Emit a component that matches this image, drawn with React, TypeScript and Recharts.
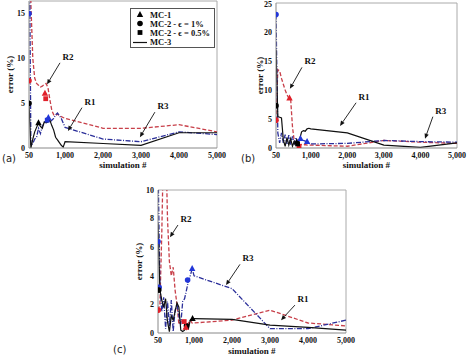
import React from 'react'
import {
  ComposedChart,
  Line,
  Scatter,
  XAxis,
  YAxis,
  ReferenceLine,
} from 'recharts'

// simulation numbers at which the errors were sampled
const simX = [50, 100, 150, 200, 250, 300, 350, 400, 450, 500, 550, 600, 650, 700, 750, 800, 850, 900, 950, 1000, 2000, 3000, 4000, 5000]
const xTicks = [50, 1000, 2000, 3000, 4000, 5000]

// panel (a)
const aR1 = [5.0, 0, 1.0, 1.8, 2.3, 2.8, 2.4, 2.2, 2.9, 2.8, 2.9, 3.1, 2.5, 2.0, 1.2, 0.9, 0.6, 0.3, 0.1, 0.7, 0.5, 0.3, 1.7, 1.7]
const aR2 = [30, 16, 10, 7.8, 7.2, 7.0, 6.8, 6.9, 7.1, 7.2, 6.7, 5.4, 4.2, 3.7, 3.6, 3.8, 3.6, 3.5, 3.4, 3.3, 2.2, 2.2, 2.6, 1.8]
const aR3 = [28, 0.3, 0.5, 1.0, 1.2, 2.2, 1.6, 2.4, 2.8, 3.3, 3.4, 2.9, 3.1, 3.3, 3.7, 3.9, 3.6, 3.3, 2.8, 2.3, 1.0, 0.7, 1.8, 1.5]
const aCircles = [{ x: 50, y: 15, s: 'R3' }, { x: 50, y: 7.5, s: 'R2' }, { x: 50, y: 5.0, s: 'R1' }]
const aTriangles = [{ x: 300, y: 2.8, s: 'R1' }, { x: 470, y: 6.1, s: 'R2' }, { x: 560, y: 3.4, s: 'R3' }]
const aSquares = [{ x: 490, y: 5.5, s: 'R2' }, { x: 530, y: 3.1, s: 'R3' }]
const aArrows = [
  { label: 'R2', from: [866, 9.5], to: [524, 7.1] },
  { label: 'R1', from: [1445, 4.5], to: [1075, 1.9] },
  { label: 'R3', from: [3365, 4.0], to: [2970, 1.2] },
]

// panel (b)
const bR1 = [17, 5.4, 5.3, 5.2, 1.4, 0.3, 1.8, 0.5, 1.6, 0.3, 1.2, 0.8, 1.0, 1.6, 2.8, 3.0, 2.9, 3.3, 3.4, 3.3, 2.6, 0.5, 0.1, 0.9]
const bR2 = [4.8, 13.5, 13.3, 12, 11, 10, 9.2, 8.6, 8.5, 3.7, 1.1, 0.8, 0.5, 0.4, 0.6, 0.5, 0.6, 0.5, 0.5, 0.5, 0.3, 1.3, 1.0, 0.8]
const bR3 = [23, 2.6, 0.9, 2.6, 0.9, 2.3, 0.7, 2.2, 0.6, 2.0, 0.8, 1.8, 0.5, 1.7, 1.5, 1.3, 1.2, 1.1, 0.8, 0.7, 0.8, 1.3, 1.1, 1.0]
const bCircles = [{ x: 50, y: 23, s: 'R3' }, { x: 50, y: 7.3, s: 'R1' }, { x: 50, y: 4.8, s: 'R2' }]
const bTriangles = [{ x: 420, y: 8.6, s: 'R2' }, { x: 620, y: 1.0, s: 'R1' }, { x: 720, y: 1.6, s: 'R3' }, { x: 900, y: 1.1, s: 'R3' }]
const bSquares = [{ x: 680, y: 0.3, s: 'R2' }, { x: 640, y: 0.7, s: 'R1' }]
const bArrows = [
  { label: 'R2', from: [760, 13.9], to: [430, 10.2] },
  { label: 'R1', from: [2240, 7.8], to: [1800, 3.8] },
  { label: 'R3', from: [4340, 5.4], to: [4125, 1.6] },
]

// panel (c)
const cR1 = [7.7, 3.0, 2.3, 1.8, 2.4, 0.8, 0.1, 1.2, 0.9, 1.5, 2.1, 1.8, 0.2, 0.1, 0.2, 0.5, 0.3, 0.9, 1.0, 1.0, 0.95, 0.55, 0.4, 0.2]
const cR2 = [1.6, 2.0, 7, 14, 14, 8, 5.0, 4.0, 4.6, 3.0, 2.0, 0.6, 0.8, 0.9, 0.8, 0.3, 0.7, 0.9, 0.7, 0.7, 0.9, 1.6, 0.7, 0.5]
const cR3 = [12, 3.3, 1.5, 2.5, 0.3, 2.2, 0.5, 2.3, 0.1, 1.6, 2.0, 1.2, 0.6, 2.2, 2.4, 3.0, 3.6, 4.0, 4.5, 4.0, 3.1, 0.3, 0.3, 0.9]
const cCircles = [{ x: 50, y: 6.4, s: 'R3' }, { x: 80, y: 3.2, s: 'R3' }, { x: 70, y: 3.0, s: 'R1' }, { x: 60, y: 1.6, s: 'R2' }, { x: 830, y: 3.7, s: 'R3' }, { x: 800, y: 0.5, s: 'R1' }]
const cTriangles = [{ x: 950, y: 4.5, s: 'R3' }, { x: 960, y: 1.0, s: 'R1' }, { x: 780, y: 0.4, s: 'R2' }]
const cSquares = [{ x: 740, y: 0.8, s: 'R2' }]
const cArrows = [
  { label: 'R2', from: [575, 7.55], to: [365, 6.7] },
  { label: 'R3', from: [2208, 4.8], to: [1840, 3.35] },
  { label: 'R1', from: [3655, 1.95], to: [3290, 0.9] },
]

const legendNames = ['MC-1', 'MC-2 - \u03f5 = 1%', 'MC-2 - \u03f5 = 0.5%', 'MC-3']
const legendKinds = ['triangle', 'circle', 'square', 'line']

const serif = '"Liberation Serif", "Times New Roman", serif'
const lineColor: Record<string, string> = { R1: '#111111', R2: '#c8404a', R3: '#2b2f9a' }
const markColor: Record<string, string> = { R1: '#000000', R2: '#e0202a', R3: '#2236d8' }

const toPoints = (ys: number[]) => simX.map((x, i) => ({ x, y: ys[i] }))
const fmt = (v: number) => v.toLocaleString('en-US')

const marker = (kind: string) => (p: any) => {
  const { cx, cy } = p
  const c = markColor[p.payload?.s] || '#000'
  if (kind === 'triangle')
    return <polygon points={`${cx},${cy - 3.6} ${cx - 3.2},${cy + 2.4} ${cx + 3.2},${cy + 2.4}`} fill={c} />
  if (kind === 'square') return <rect x={cx - 2.4} y={cy - 2.4} width={4.8} height={4.8} fill={c} />
  return <circle cx={cx} cy={cy} r={2.8} fill={c} />
}

const arrowShape = (label: string) => (p: any) => {
  const { x1, y1, x2, y2 } = p
  const a = Math.atan2(y2 - y1, x2 - x1)
  const L = 5, W = 2.2
  const bx = x2 - L * Math.cos(a), by = y2 - L * Math.sin(a)
  const nx = -Math.sin(a) * W, ny = Math.cos(a) * W
  return (
    <g>
      <line x1={x1} y1={y1} x2={bx} y2={by} stroke="#111" strokeWidth={0.9} />
      <polygon points={`${x2},${y2} ${bx + nx},${by + ny} ${bx - nx},${by - ny}`} fill="#111" />
      <text x={x1 + 8} y={y1 - 3} textAnchor="middle" fontFamily={serif} fontWeight="bold" fontSize={9} fill="#111">
        {label}
      </text>
    </g>
  )
}

type PanelProps = {
  width: number
  height: number
  margin: { top: number; right: number; bottom: number; left: number }
  yWidth: number
  xHeight: number
  yMax: number
  yTicks: number[]
  r1: number[]
  r2: number[]
  r3: number[]
  circles: any[]
  triangles: any[]
  squares: any[]
  arrows: { label: string; from: number[]; to: number[] }[]
  yLabelOffset: number
  xLabelOffset: number
}

const tickStyle = { fontFamily: serif, fontWeight: 'bold', fontSize: 8, fill: '#111' }

const Panel: React.FC<PanelProps> = (p) => (
  <ComposedChart width={p.width} height={p.height} margin={p.margin}>
    <XAxis
      type="number"
      dataKey="x"
      domain={[50, 5000]}
      ticks={xTicks}
      tickFormatter={fmt}
      allowDataOverflow
      height={p.xHeight}
      stroke="#888"
      tickLine={false}
      tickSize={0}
      tickMargin={4}
      tick={tickStyle}
      label={{ value: 'simulation #', position: 'insideBottom', offset: p.xLabelOffset, style: { fontFamily: serif, fontWeight: 'bold', fontSize: 9, fill: '#111' } }}
    />
    <YAxis
      type="number"
      domain={[0, p.yMax]}
      ticks={p.yTicks}
      allowDataOverflow
      width={p.yWidth}
      stroke="#888"
      tickLine={false}
      tickSize={0}
      tickMargin={4}
      tick={tickStyle}
      label={{ value: 'error (%)', angle: -90, position: 'insideLeft', offset: p.yLabelOffset, style: { textAnchor: 'middle', fontFamily: serif, fontWeight: 'bold', fontSize: 9, fill: '#111' } }}
    />
    <ReferenceLine y={p.yMax} stroke="#aaa" />
    <ReferenceLine x={5000} stroke="#aaa" />
    <Line data={toPoints(p.r2)} dataKey="y" stroke={lineColor.R2} strokeWidth={1.3} strokeDasharray="4 2" dot={false} isAnimationActive={false} />
    <Line data={toPoints(p.r3)} dataKey="y" stroke={lineColor.R3} strokeWidth={1.3} strokeDasharray="5 1.5 1 1.5" dot={false} isAnimationActive={false} />
    <Line data={toPoints(p.r1)} dataKey="y" stroke={lineColor.R1} strokeWidth={1.2} dot={false} isAnimationActive={false} />
    <Scatter data={p.circles} dataKey="y" shape={marker('circle')} isAnimationActive={false} />
    <Scatter data={p.triangles} dataKey="y" shape={marker('triangle')} isAnimationActive={false} />
    <Scatter data={p.squares} dataKey="y" shape={marker('square')} isAnimationActive={false} />
    {p.arrows.map((a) => (
      <ReferenceLine
        key={a.label}
        segment={[{ x: a.from[0], y: a.from[1] }, { x: a.to[0], y: a.to[1] }]}
        shape={arrowShape(a.label)}
      />
    ))}
  </ComposedChart>
)

const LegendSymbol = ({ kind }: { kind: string }) => (
  <svg width={14} height={9} style={{ marginRight: 3, flex: 'none' }}>
    {kind === 'line' ? <line x1={0} y1={4.5} x2={14} y2={4.5} stroke="#111" strokeWidth={1.2} /> : marker(kind)({ cx: 7, cy: 4.5, payload: { s: 'R1' } })}
  </svg>
)

const tagStyle: React.CSSProperties = { position: 'absolute', fontFamily: '"DejaVu Sans", sans-serif', fontSize: 10, color: '#222' }

export default function App() {
  return (
    <div style={{ position: 'absolute', left: 0, top: 0, width: 474, height: 358, background: '#fff', overflow: 'hidden' }}>
      <div style={{ position: 'absolute', left: 0, top: 0 }}>
        <Panel width={237} height={175} margin={{ top: 1, right: 20, bottom: 0, left: 0 }} yWidth={29} xHeight={27}
          yMax={16.4} yTicks={[0, 5, 10, 15]} r1={aR1} r2={aR2} r3={aR3}
          circles={aCircles} triangles={aTriangles} squares={aSquares} arrows={aArrows}
          yLabelOffset={10} xLabelOffset={7} />
      </div>
      <div style={{ position: 'absolute', left: 237, top: 0 }}>
        <Panel width={237} height={175} margin={{ top: 3, right: 17, bottom: 0, left: 0 }} yWidth={39} xHeight={27}
          yMax={25} yTicks={[0, 5, 10, 15, 20, 25]} r1={bR1} r2={bR2} r3={bR3}
          circles={bCircles} triangles={bTriangles} squares={bSquares} arrows={bArrows}
          yLabelOffset={23} xLabelOffset={7} />
      </div>
      <div style={{ position: 'absolute', left: 110, top: 175 }}>
        <Panel width={260} height={183} margin={{ top: 15, right: 24, bottom: 0, left: 0 }} yWidth={48} xHeight={25}
          yMax={10} yTicks={[0, 2, 4, 6, 8, 10]} r1={cR1} r2={cR2} r3={cR3}
          circles={cCircles} triangles={cTriangles} squares={cSquares} arrows={cArrows}
          yLabelOffset={29} xLabelOffset={4} />
      </div>
      <div style={{ position: 'absolute', left: 130, top: 8, width: 85, height: 40, border: '1px solid #555', background: '#fff', boxSizing: 'border-box', padding: '1px 2px', fontFamily: serif, fontWeight: 'bold', fontSize: 8.5, color: '#111' }}>
        {legendNames.map((n, i) => (
          <div key={n} style={{ display: 'flex', alignItems: 'center', height: 9.2, whiteSpace: 'nowrap' }}>
            <LegendSymbol kind={legendKinds[i]} />
            <span>{n}</span>
          </div>
        ))}
      </div>
      <span style={{ ...tagStyle, left: 2, top: 153 }}>(a)</span>
      <span style={{ ...tagStyle, left: 241, top: 153 }}>(b)</span>
      <span style={{ ...tagStyle, left: 113, top: 344 }}>(c)</span>
    </div>
  )
}
